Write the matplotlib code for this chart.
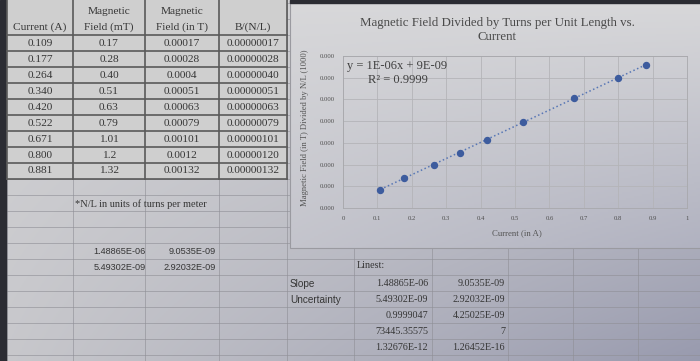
import matplotlib
matplotlib.use("Agg")
import matplotlib.pyplot as plt
import numpy as np
from matplotlib.patches import Rectangle
from matplotlib.ticker import MultipleLocator, StrMethodFormatter

# table / chart data
current_a = [0.109, 0.177, 0.264, 0.340, 0.420, 0.522, 0.671, 0.800, 0.881]
field_mt = ["0.17", "0.28", "0.40", "0.51", "0.63", "0.79", "1.01", "1.2", "1.32"]
field_t = ["0.00017", "0.00028", "0.0004", "0.00051", "0.00063",
           "0.00079", "0.00101", "0.0012", "0.00132"]
b_over_nl = [1.7e-7, 2.8e-7, 4.0e-7, 5.1e-7, 6.3e-7, 7.9e-7, 1.01e-6, 1.2e-6, 1.32e-6]

fit_slope = 1.48865e-06
fit_intercept = 9.0535e-09
eq_label = "y = 1E-06x + 9E-09"
r2_label = "R² = 0.9999"

slope_row = ["1.48865E-06", "9.0535E-09"]
uncert_row = ["5.49302E-09", "2.92032E-09"]
linest_left = ["1.48865E-06", "5.49302E-09", "0.9999047", "73445.35575", "1.32676E-12"]
linest_right = ["9.0535E-09", "2.92032E-09", "4.25025E-09", "7", "1.26452E-16"]

W, H = 700, 361
SERIF = "Liberation Serif"
SANS = "Liberation Sans"
INK = "#363636"

fig = plt.figure(figsize=(7, 3.61), dpi=100)


def fx(x):
    return x / W


def fy(y):
    return 1 - y / H


def put(x, y, s, size, family=SERIF, ha="center", **kw):
    fig.text(fx(x), fy(y), s, fontsize=size, family=family, ha=ha, va="center",
             color=kw.pop("color", INK), **kw)


def backdrop(x0, x1, y0, y1, lift=0):
    # photo-like shading, darker and bluer toward the lower right
    yy, xx = np.mgrid[y0:y1:2, x0:x1:2]
    shade = (xx / W) * (yy / H)
    r = 210 + lift - 48 * shade - 10 * yy / H
    g = 210 + lift - 46 * shade - 10 * yy / H
    b = 212 + lift - 30 * shade - 8 * yy / H
    return np.clip(np.dstack([r, g, b]) / 255, 0, 1)


bg = fig.add_axes([0, 0, 1, 1])
bg.set_xlim(0, W)
bg.set_ylim(H, 0)
bg.axis("off")
bg.imshow(backdrop(0, W, 0, H), extent=(0, W, H, 0), aspect="auto", zorder=0)

# spreadsheet cell grid
col_edges = [7, 73, 145, 219, 287, 354, 432, 508, 573, 638]
for x in col_edges:
    bg.plot([x, x], [0, H], color="#8f8f96", lw=0.6, alpha=0.7, zorder=1)
for y in np.arange(3, H, 16):
    bg.plot([0, W], [y, y], color="#8f8f96", lw=0.6, alpha=0.7, zorder=1)

bg.add_patch(Rectangle((0, 0), 6, H, color="#2b2c33", zorder=2))

# data table
tab_cols = [7, 73, 145, 219, 287]
tab_rows = [35 + 16 * i for i in range(len(current_a) + 1)]
bg.add_patch(Rectangle((7, 0), 280, tab_rows[-1], facecolor="#cfcfcf", zorder=2))
for x in tab_cols:
    bg.plot([x, x], [0, tab_rows[-1]], color="#5a5a5a", lw=1.2, zorder=3)
for y in tab_rows:
    bg.plot([7, 287], [y, y], color="#5a5a5a", lw=1.2, zorder=3)

centers = [(tab_cols[i] + tab_cols[i + 1]) / 2 for i in range(4)]
put(centers[0], 27, "Current (A)", 8.2)
put(centers[1], 12, "Magnetic", 8.2)
put(centers[1], 27, "Field (mT)", 8.2)
put(centers[2], 12, "Magnetic", 8.2)
put(centers[2], 27, "Field (in T)", 8.2)
put(centers[3], 27, "B/(N/L)", 8.2)
for i in range(len(current_a)):
    y = (tab_rows[i] + tab_rows[i + 1]) / 2
    put(centers[0], y, f"{current_a[i]:.3f}", 8.2)
    put(centers[1], y, field_mt[i], 8.2)
    put(centers[2], y, field_t[i], 8.2)
    put(centers[3], y, f"{b_over_nl[i]:.8f}", 8.2)

put(75, 204, "*N/L in units of turns per meter", 7.5, ha="left")
put(146, 252, slope_row[0], 6.6, family=SANS, ha="right")
put(216, 252, slope_row[1], 6.6, family=SANS, ha="right")
put(146, 268, uncert_row[0], 6.6, family=SANS, ha="right")
put(216, 268, uncert_row[1], 6.6, family=SANS, ha="right")

# linest block
put(290, 284, "Slope", 7.2, family=SANS, ha="left")
put(290, 300, "Uncertainty", 7.2, family=SANS, ha="left")
put(357, 266, "Linest:", 7.3, ha="left")
for i in range(len(linest_left)):
    y = 284 + 16 * i
    put(428, y, linest_left[i], 7.3, ha="right")
    put(505, y, linest_right[i], 7.3, ha="right")

# chart area (runs off the right edge of the photo)
bg.imshow(backdrop(290, W, 0, 248, lift=6), extent=(290, W, 248, 0), aspect="auto", zorder=4)
bg.add_patch(Rectangle((290, -2), W + 10 - 290, 250, facecolor="none",
                       edgecolor="#9a9aa0", lw=0.8, zorder=5))
bg.add_patch(Rectangle((290, 0), W - 290, 3, color="#2b2c33", zorder=6))
bg.set_xlim(0, W)
bg.set_ylim(H, 0)

ax = fig.add_axes([fx(343), fy(208), fx(687) - fx(343), (208 - 56) / H])
ax.set_facecolor("none")
ax.set_xlim(0, 1)
ax.set_ylim(0, 1.4e-6)
ax.xaxis.set_major_locator(MultipleLocator(0.1))
ax.yaxis.set_major_locator(MultipleLocator(2e-7))
ax.xaxis.set_major_formatter(lambda v, p: f"{v:.1f}".rstrip("0").rstrip(".") if v else "0")
ax.yaxis.set_major_formatter(StrMethodFormatter("{x:.3f}"))
ax.grid(True, color="#b4b4b8", lw=0.6)
ax.set_axisbelow(True)
for sp in ax.spines.values():
    sp.set_color("#a8a8ac")
    sp.set_linewidth(0.6)
ax.tick_params(length=0, labelsize=4.8, colors="#4e4e4e", pad=6)
for lab in ax.get_xticklabels() + ax.get_yticklabels():
    lab.set_family(SERIF)

trend_x = np.array([min(current_a), max(current_a)])
ax.plot(trend_x, fit_slope * trend_x + fit_intercept, ls=":", color="#5877b5", lw=1.1, zorder=3)
ax.plot(current_a, b_over_nl, "o", ms=4.3, color="#3d5c9e", zorder=4)

put(497, 23, "Magnetic Field Divided by Turns per Unit Length vs.", 9.3, color="#4a4a4a")
put(497, 37, "Current", 9.3, color="#4a4a4a")
put(305, 128, "Magnetic Field (in T) Divided by N/L (1000)", 6.2, rotation=90, color="#555555")
put(517, 233, "Current (in A)", 6.3, color="#555555")
put(347, 66, eq_label, 9, ha="left", color="#404040")
put(368, 80, r2_label, 9, ha="left", color="#404040")

fig.savefig("out.png", dpi=100)
